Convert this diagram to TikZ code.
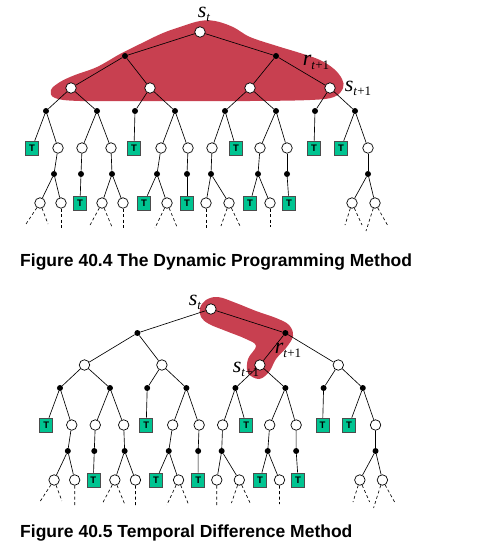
\documentclass[tikz,border=0pt]{standalone}
\usepackage{fontspec}
\setsansfont{Liberation Sans}
\newfontfamily\lserif{Liberation Serif}
\definecolor{tgreen}{RGB}{0,196,145}
\definecolor{blobred}{RGB}{200,64,80}
\newcommand\mylab[2]{{\lserif\itshape\fontsize{22}{22}\selectfont #1}\raisebox{-4pt}{\lserif\fontsize{13}{13}\selectfont #2}}
\tikzset{
  opn/.style={circle,draw=black,fill=white,line width=0.7pt,minimum size=10.5pt,inner sep=0pt},
  dot/.style={circle,fill=black,minimum size=6pt,inner sep=0pt},
  term/.style={rectangle,draw=black!70,fill=tgreen,line width=0.6pt,minimum width=13pt,minimum height=14pt,inner sep=0pt,font=\sffamily\bfseries\fontsize{9.5}{9.5}\selectfont},
  edge/.style={line width=0.65pt,black},
  dashln/.style={line width=0.65pt,black,dash pattern=on 3pt off 2.5pt},
  blob/.style={fill=blobred,draw=none},
  lab/.style={inner sep=0pt},
  caption/.style={anchor=base west,inner sep=0pt,font=\sffamily\bfseries\fontsize{17.5}{20}\selectfont}
}
\newcommand\drawtree{%
  \node[opn] (R) at (200,32) {};
  \node[dot] (a1) at (125,56) {};
  \node[dot] (a2) at (276,56) {};
  \foreach \n/\xx in {b1/71,b2/150,b3/250,b4/330} \node[opn] (\n) at (\xx,88) {};
  \foreach \n/\xx in {c1/46,c2/97,c3/135,c4/175,c5/225,c6/276,c7/315,c8/355} \node[dot] (\n) at (\xx,111) {};
  \foreach \n/\xx in {d2/58,d3/82,d4/111,d6/161,d7/188,d8/212,d10/260,d11/287,d14/368} \node[opn] (\n) at (\xx,148) {};
  \foreach \n/\xx in {d1/32,d5/134,d9/236,d12/314,d13/341} \node[term] (\n) at (\xx,148) {T};
  \foreach \n/\xx in {e2/54,e3/81,e4/112,e6/157,e7/187,e8/211,e10/258,e11/287,e14/368} \node[dot] (\n) at (\xx,174) {};
  \foreach \n/\xx in {f1/40,f2/61,f4/102,f5/123,f7/167,f9/206,f10/229,f12/270,f14/352,f15/375} \node[opn] (\n) at (\xx,203) {};
  \foreach \n/\xx in {f3/80,f6/144,f8/187,f11/250,f13/289} \node[term] (\n) at (\xx,203) {T};
  \foreach \p/\c in {R/a1,R/a2,a1/b1,a1/b2,a2/b3,a2/b4,b1/c1,b1/c2,b2/c3,b2/c4,b3/c5,b3/c6,b4/c7,b4/c8,
    c1/d1,c1/d2,c2/d3,c2/d4,c3/d5,c4/d6,c4/d7,c5/d8,c5/d9,c6/d10,c6/d11,c7/d12,c8/d13,c8/d14,
    d2/e2,d3/e3,d4/e4,d6/e6,d7/e7,d8/e8,d10/e10,d11/e11,d14/e14,
    e2/f1,e2/f2,e3/f3,e4/f4,e4/f5,e6/f6,e6/f7,e7/f8,e8/f9,e8/f10,e10/f11,e10/f12,e11/f13,e14/f14,e14/f15}
    \draw[edge] (\p) -- (\c);
  \foreach \n/\xx/\yy/\p in {g1/26/224/f1,g2/48/224/f1,g3/61/228/f2,g4/89/227/f4,g5/112/227/f4,g6/123/230/f5,
    g7/155/228/f7,g8/177/227/f7,g9/206/230/f9,g10/221/226/f10,g11/240/226/f10,g12/270/227/f12,
    g13/345/225/f14,g14/362/225/f14,g15/366/231/f15,g16/388/226/f15}
    {\coordinate (\n) at (\xx,\yy); \draw[dashln] (\p) -- (\n);}
}
\begin{document}
\begin{tikzpicture}[x=1pt,y=-1pt]
\useasboundingbox[fill=white] (0,0) rectangle (496,551);
% top blob
\fill[blob] plot[smooth cycle,tension=0.6] coordinates {(55,98) (51,90) (60,82) (75,75) (97,67) (120,54) (140,44) (163,33) (183,26) (200,21) (215,21) (233,27) (250,37) (277,46) (300,53) (320,60) (334,69) (342,79) (343,88) (334,97) (310,100) (250,101) (150,101) (80,101)};
% bottom blob
\fill[blob] plot[smooth cycle,tension=0.6] coordinates {(200,308) (206,300) (218,297) (236,303) (256,311) (276,318) (289,325) (293,336) (286,348) (276,359) (269,372) (259,379) (248,373) (248,359) (256,346) (246,339) (226,331) (209,324) (201,317)};
\begin{scope}[name prefix=A-]
  \drawtree
\end{scope}
\begin{scope}[name prefix=B-,shift={(14.9,277)},xscale=0.98]
  \drawtree
\end{scope}
% labels top
\node[lab] (lA1) at (204,14) {\mylab{s}{\textit{t}}};
\node[lab] (lA2) at (316,62) {\mylab{r}{\textit{t}+1}};
\node[lab] (lA3) at (358,88) {\mylab{s}{\textit{t}+1}};
% labels bottom
\node[lab] (lB1) at (195,302) {\mylab{s}{\textit{t}}};
\node[lab] (lB2) at (288,350) {\mylab{r}{\textit{t}+1}};
\node[lab] (lB3) at (246,369) {\mylab{s}{\textit{t}+1}};
% captions
\node[caption] (cap1) at (20,266) {Figure 40.4 The Dynamic Programming Method};
\node[caption] (cap2) at (20,537) {Figure 40.5 Temporal Difference Method};
\end{tikzpicture}
\end{document}
